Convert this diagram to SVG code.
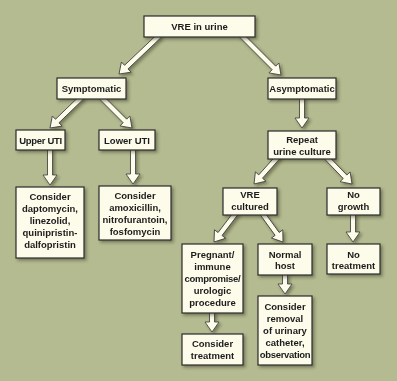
<svg xmlns="http://www.w3.org/2000/svg" width="397" height="381" viewBox="0 0 397 381">
<defs>
<filter id="sh" x="-20%" y="-20%" width="150%" height="150%">
<feDropShadow dx="2" dy="2" stdDeviation="1.5" flood-color="#2a2e1a" flood-opacity="0.45"/>
</filter>
<style>
.box{fill:#fdfbea;stroke:#2b2b2b;stroke-width:1.2}
.arr{fill:#fdfbea;stroke:#3a3a3a;stroke-width:0.8;stroke-linejoin:miter}
text{font-family:"Liberation Sans",Arial,sans-serif;font-size:9.5px;font-weight:bold;fill:#1c1c1c;text-anchor:middle}
.tight{letter-spacing:-0.3px}
</style>
</defs>
<rect width="397" height="381" fill="#b4bb90"/>
<g id="connectors" filter="url(#sh)">
<path class="arr" transform="translate(119,74) rotate(46.5)" d="M0,0 L-7,-10 L-2.5,-10 L-2.5,-56 L2.5,-56 L2.5,-10 L7,-10 Z"/>
<path class="arr" transform="translate(281,75) rotate(-45)" d="M0,0 L-7,-10 L-2.5,-10 L-2.5,-57 L2.5,-57 L2.5,-10 L7,-10 Z"/>
<path class="arr" transform="translate(50,128) rotate(46)" d="M0,0 L-7,-10 L-2.5,-10 L-2.5,-45 L2.5,-45 L2.5,-10 L7,-10 Z"/>
<path class="arr" transform="translate(132,128) rotate(-45)" d="M0,0 L-7,-10 L-2.5,-10 L-2.5,-44 L2.5,-44 L2.5,-10 L7,-10 Z"/>
<path class="arr" transform="translate(302,128)" d="M0,0 L-7,-10 L-2.5,-10 L-2.5,-31 L2.5,-31 L2.5,-10 L7,-10 Z"/>
<path class="arr" transform="translate(50,185)" d="M0,0 L-7,-10 L-2.5,-10 L-2.5,-37 L2.5,-37 L2.5,-10 L7,-10 Z"/>
<path class="arr" transform="translate(133,184)" d="M0,0 L-7,-10 L-2.5,-10 L-2.5,-36 L2.5,-36 L2.5,-10 L7,-10 Z"/>
<path class="arr" transform="translate(254,184) rotate(41.6)" d="M0,0 L-7,-10 L-2.5,-10 L-2.5,-37 L2.5,-37 L2.5,-10 L7,-10 Z"/>
<path class="arr" transform="translate(352,184) rotate(-43.9)" d="M0,0 L-7,-10 L-2.5,-10 L-2.5,-38 L2.5,-38 L2.5,-10 L7,-10 Z"/>
<path class="arr" transform="translate(214,242) rotate(37.2)" d="M0,0 L-7,-10 L-2.5,-10 L-2.5,-37 L2.5,-37 L2.5,-10 L7,-10 Z"/>
<path class="arr" transform="translate(283,242) rotate(-35.9)" d="M0,0 L-7,-10 L-2.5,-10 L-2.5,-36 L2.5,-36 L2.5,-10 L7,-10 Z"/>
<path class="arr" transform="translate(353,242)" d="M0,0 L-7,-10 L-2.5,-10 L-2.5,-29 L2.5,-29 L2.5,-10 L7,-10 Z"/>
<path class="arr" transform="translate(212,332)" d="M0,0 L-7,-10 L-2.5,-10 L-2.5,-21 L2.5,-21 L2.5,-10 L7,-10 Z"/>
<path class="arr" transform="translate(285,294)" d="M0,0 L-7,-10 L-2.5,-10 L-2.5,-21 L2.5,-21 L2.5,-10 L7,-10 Z"/>
</g>
<g id="vre" filter="url(#sh)"><rect class="box" x="144" y="16" width="111" height="21"/><text x="199.5" y="30">VRE in urine</text></g>
<g id="symptomatic" filter="url(#sh)"><rect class="box" x="57" y="78" width="69" height="21"/><text x="91.5" y="92">Symptomatic</text></g>
<g id="asymptomatic" filter="url(#sh)"><rect class="box" x="268" y="78" width="68" height="21"/><text x="302" y="92">Asymptomatic</text></g>
<g id="upper" filter="url(#sh)"><rect class="box" x="16" y="130" width="49" height="20"/><text x="40.5" y="143.5" class="tight">Upper UTI</text></g>
<g id="lower" filter="url(#sh)"><rect class="box" x="99" y="130" width="56" height="20"/><text x="127" y="143.5">Lower UTI</text></g>
<g id="dapto" filter="url(#sh)"><rect class="box" x="16" y="187" width="68" height="71"/>
<text x="50" y="200">Consider</text><text x="50" y="212">daptomycin,</text><text x="50" y="224">linezolid,</text><text x="50" y="236">quinipristin-</text><text x="50" y="248">dalfopristin</text></g>
<g id="amox" filter="url(#sh)"><rect class="box" x="99" y="186" width="72" height="54"/>
<text x="135" y="198.5">Consider</text><text x="135" y="210.5">amoxicillin,</text><text x="135" y="222.5">nitrofurantoin,</text><text x="135" y="234.5">fosfomycin</text></g>
<g id="repeat" filter="url(#sh)"><rect class="box" x="268" y="131" width="68" height="28"/>
<text x="302" y="142.5">Repeat</text><text x="302" y="154.5">urine culture</text></g>
<g id="vrecultured" filter="url(#sh)"><rect class="box" x="223" y="188" width="54" height="27"/>
<text x="250" y="197.5">VRE</text><text x="250" y="209.5">cultured</text></g>
<g id="nogrowth" filter="url(#sh)"><rect class="box" x="327" y="188" width="53" height="27"/>
<text x="353.5" y="197.5">No</text><text x="353.5" y="209.5">growth</text></g>
<g id="pregnant" filter="url(#sh)"><rect class="box" x="182" y="244" width="61" height="69"/>
<text x="212.5" y="257.5">Pregnant/</text><text x="212.5" y="269.5">immune</text><text x="212.5" y="281.5" class="tight">compromise/</text><text x="212.5" y="293.5">urologic</text><text x="212.5" y="305.5">procedure</text></g>
<g id="normalhost" filter="url(#sh)"><rect class="box" x="258" y="244" width="54" height="31"/>
<text x="285" y="257.5">Normal</text><text x="285" y="269">host</text></g>
<g id="notreatment" filter="url(#sh)"><rect class="box" x="327" y="244" width="53" height="30"/>
<text x="353.5" y="257.5">No</text><text x="353.5" y="269">treatment</text></g>
<g id="considertreatment" filter="url(#sh)"><rect class="box" x="182" y="334" width="61" height="31"/>
<text x="212.5" y="347">Consider</text><text x="212.5" y="359">treatment</text></g>
<g id="considerremoval" filter="url(#sh)"><rect class="box" x="258" y="296" width="54" height="69"/>
<text x="285" y="309.5">Consider</text><text x="285" y="321.5">removal</text><text x="285" y="333.5">of urinary</text><text x="285" y="346">catheter,</text><text x="285" y="358" class="tight">observation</text></g>
</svg>
